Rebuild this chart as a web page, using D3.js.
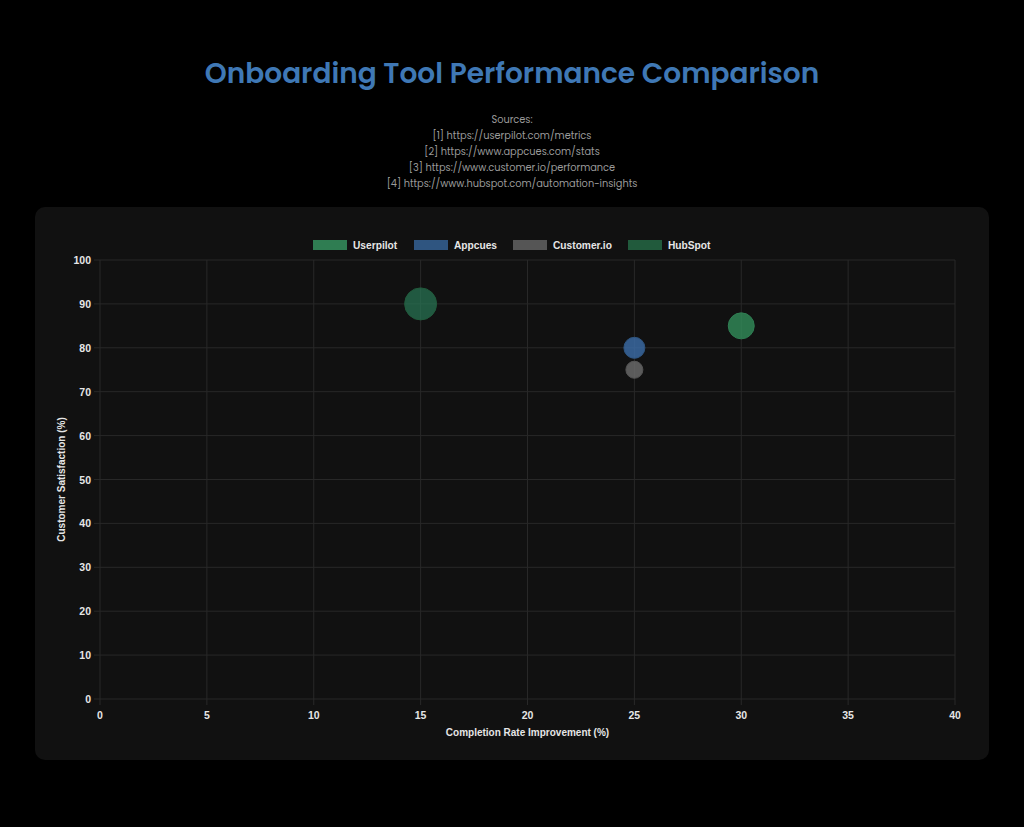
<!DOCTYPE html>
<script src="https://d3js.org/d3.v7.min.js"></script>
<body style="margin: 0; background: #000;">
<svg id="chart" width="1024" height="827"></svg>
</body>

<style>
  .grid line {
    stroke: #282828;
    stroke-width: 1px;
  }
  .tick-label, .axis-title, .legend text {
    font-family: "Liberation Sans", Arial, sans-serif;
    font-weight: bold;
    font-size: 10.5px;
    fill: #e6e6e6;
  }
  .sources text {
    font-family: "Poppins", "Open Sans", sans-serif;
    font-size: 9.8px;
    fill: #9a9a9a;
  }
</style>

<script>

var tools = ["Userpilot", "Appcues", "Customer.io", "HubSpot"];
var completionRate = [30, 25, 25, 15];
var satisfaction = [85, 80, 75, 90];
var bubbleSize = [13, 10.5, 8.5, 16];
var colors = ["#2f7d52", "#2f5580", "#555555", "#215a3c"];
var fills = ["rgba(52,150,95,0.75)", "rgba(60,110,170,0.8)", "rgba(110,110,110,0.8)", "rgba(40,120,85,0.7)"];

var xTicks = [0, 5, 10, 15, 20, 25, 30, 35, 40];
var yTicks = [0, 10, 20, 30, 40, 50, 60, 70, 80, 90, 100];

var sources = [
  "Sources:",
  "[1] https://userpilot.com/metrics",
  "[2] https://www.appcues.com/stats",
  "[3] https://www.customer.io/performance",
  "[4] https://www.hubspot.com/automation-insights"
];

var svg = d3.select("#chart");

// title + sources
svg.append("text")
    .attr("x", 512)
    .attr("y", 83)
    .attr("text-anchor", "middle")
    .style("font-family", "Poppins, 'Open Sans', sans-serif")
    .style("font-weight", 600)
    .style("font-size", "28px")
    .style("fill", "#3f78b5")
    .text("Onboarding Tool Performance Comparison");

svg.append("g").attr("class", "sources")
  .selectAll("text")
  .data(sources)
  .join("text")
    .attr("x", 512)
    .attr("y", function(d, i) { return 123 + i * 16; })
    .attr("text-anchor", "middle")
    .text(function(d) { return d; });

// card
svg.append("rect")
    .attr("x", 35)
    .attr("y", 207)
    .attr("width", 954)
    .attr("height", 553)
    .attr("rx", 10)
    .style("fill", "#111111");

var x = d3.scaleLinear().domain([0, 40]).range([100, 955]);
var y = d3.scaleLinear().domain([0, 100]).range([699, 260]);

var grid = svg.append("g").attr("class", "grid");

grid.selectAll("line.v")
  .data(xTicks)
  .join("line")
    .attr("class", "v")
    .attr("x1", function(d) { return x(d); })
    .attr("x2", function(d) { return x(d); })
    .attr("y1", y(100))
    .attr("y2", y(0) + 6);

grid.selectAll("line.h")
  .data(yTicks)
  .join("line")
    .attr("class", "h")
    .attr("x1", x(0) - 6)
    .attr("x2", x(40))
    .attr("y1", function(d) { return y(d); })
    .attr("y2", function(d) { return y(d); });

svg.append("g").selectAll("text")
  .data(xTicks)
  .join("text")
    .attr("class", "tick-label")
    .attr("x", function(d) { return x(d); })
    .attr("y", 719)
    .attr("text-anchor", "middle")
    .text(function(d) { return d; });

svg.append("g").selectAll("text")
  .data(yTicks)
  .join("text")
    .attr("class", "tick-label")
    .attr("x", 91)
    .attr("y", function(d) { return y(d) + 4; })
    .attr("text-anchor", "end")
    .text(function(d) { return d; });

svg.append("text")
    .attr("class", "axis-title")
    .attr("x", x(20))
    .attr("y", 736)
    .attr("text-anchor", "middle")
    .style("font-size", "10px")
    .text("Completion Rate Improvement (%)");

svg.append("text")
    .attr("class", "axis-title")
    .attr("transform", "translate(65," + y(50) + ") rotate(-90)")
    .attr("text-anchor", "middle")
    .style("font-size", "10px")
    .text("Customer Satisfaction (%)");

// bubbles
var data = tools.map(function(t, i) {
  return { name: t, x: completionRate[i], y: satisfaction[i], r: bubbleSize[i], i: i };
});

svg.append("g").selectAll("circle")
  .data(data)
  .join("circle")
    .attr("cx", function(d) { return x(d.x); })
    .attr("cy", function(d) { return y(d.y); })
    .attr("r", function(d) { return d.r; })
    .style("fill", function(d) { return fills[d.i]; })
    .style("stroke", function(d) { return colors[d.i]; })
    .style("stroke-width", 1);

// legend
var legendX = [313, 414, 513, 628];
var legend = svg.append("g").attr("class", "legend")
  .selectAll("g")
  .data(tools)
  .join("g")
    .attr("transform", function(d, i) { return "translate(" + legendX[i] + ",240)"; });

legend.append("rect")
    .attr("width", 34)
    .attr("height", 10)
    .style("fill", function(d, i) { return colors[i]; });

legend.append("text")
    .attr("x", 40)
    .attr("y", 9)
    .style("font-size", "10.2px")
    .text(function(d) { return d; });

</script>
